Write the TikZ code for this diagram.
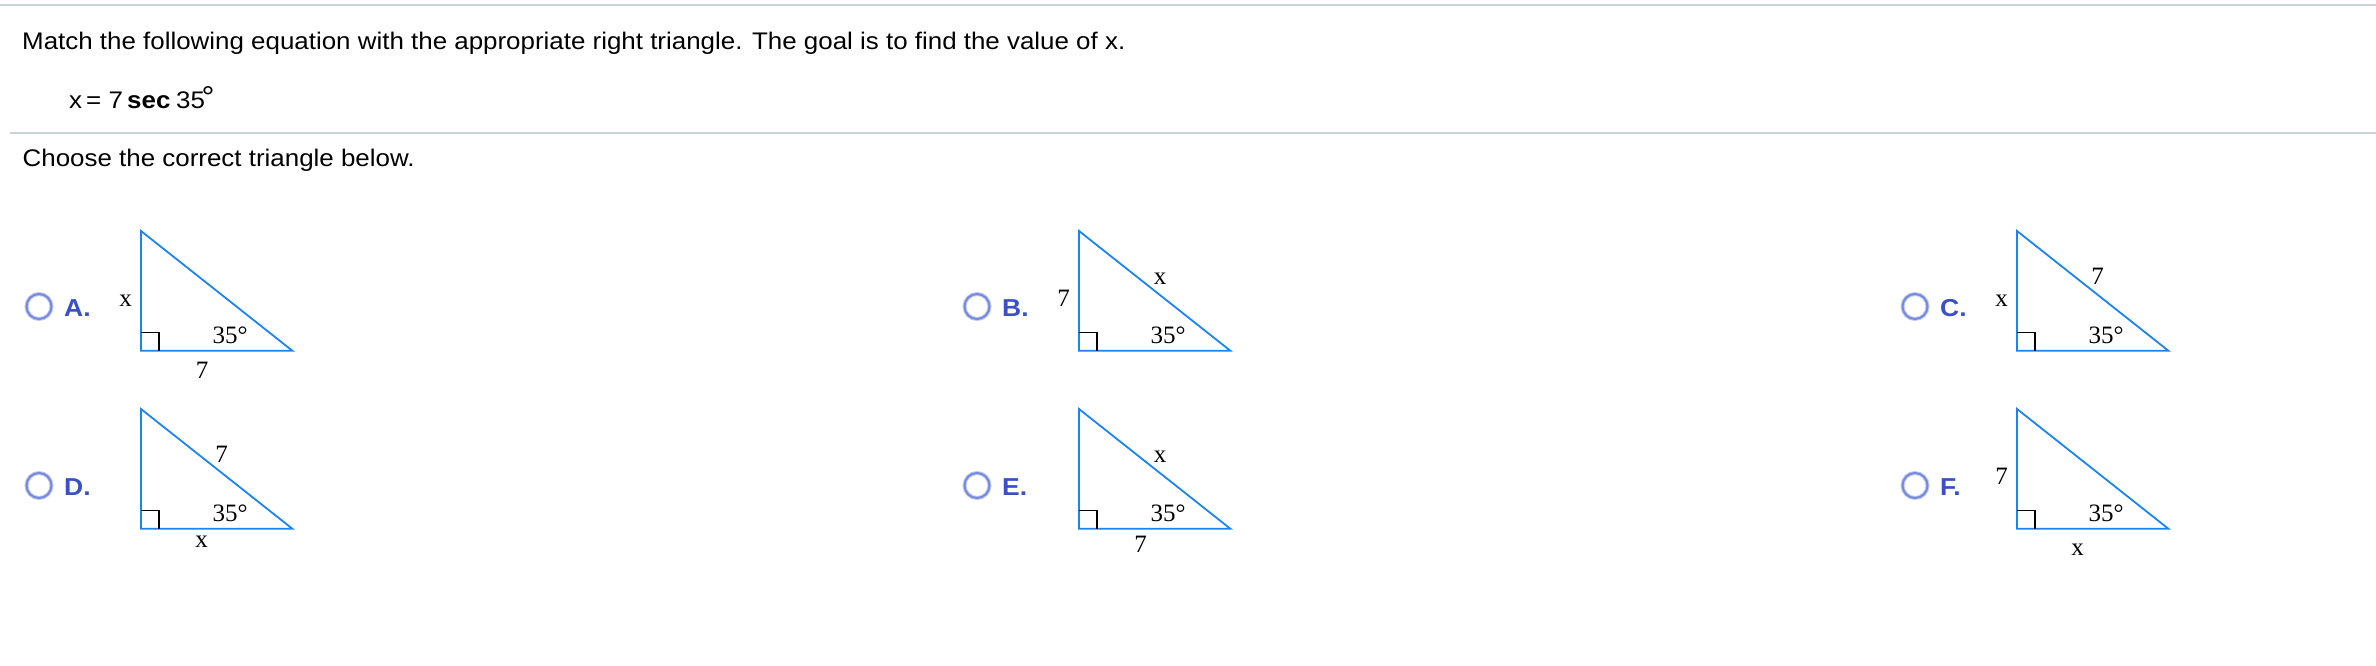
\documentclass[tikz,border=0pt]{standalone}
\usepackage{fontspec}
\setmainfont{Liberation Serif}
\newfontfamily\arialf[FakeStretch=1.08]{Liberation Sans}
\definecolor{rulecol}{RGB}{204,208,221}
\definecolor{tricol}{RGB}{26,132,240}
\definecolor{radiocol}{RGB}{118,138,222}
\definecolor{labcol}{RGB}{58,80,200}
\tikzset{
  tri/.style={draw=tricol, line width=1.8pt, line join=miter},
  rbox/.style={draw=black, line width=1.3pt},
  lbl/.style={inner sep=0pt, anchor=base, font=\fontsize{25}{30}\selectfont},
  ang/.style={inner sep=0pt, anchor=base west, font=\fontsize{25}{30}\selectfont},
  txt/.style={inner sep=0pt, anchor=base west, font=\arialf\fontsize{24}{29}\selectfont},
  opt/.style={inner sep=0pt, anchor=base west, text=labcol, font=\arialf\bfseries\fontsize{24.5}{29}\selectfont},
  radioglow/.style={draw=radiocol!45, line width=4pt},
  radio/.style={draw=radiocol, line width=2pt},
  hrule/.style={draw=rulecol, line width=2pt}
}
\newcommand\rtri[3]{%
  \begin{scope}[shift={(#2,#3)}]
    \coordinate (#1r) at (0,0);
    \coordinate (#1t) at (0,-119.7);
    \coordinate (#1h) at (151.3,0);
    \coordinate (#1b1) at (0,-18);
    \coordinate (#1b2) at (18,-18);
    \coordinate (#1b3) at (18,0);
    \draw[tri] (#1t) -- (#1r) -- (#1h) -- cycle;
    \draw[rbox] (#1b1) -- (#1b2) -- (#1b3);
    \node[ang] (#1ang) at (71.5,-6.8) {35°};
  \end{scope}}
\newcommand\ropt[4]{% name, cx, cy, letter
  \node[circle, minimum size=25pt, inner sep=0pt] (#1rad) at (#2,#3) {};
  \draw[radioglow] (#1rad.center) circle (12.5pt);
  \draw[radio] (#1rad.center) circle (12.5pt);
  \node[opt] (#1lab) at (#2+25,#3+9.5) {#4};}
\begin{document}
\begin{tikzpicture}[x=1pt,y=-1pt]
\useasboundingbox (0,0) rectangle (2376,666);
% rules
\coordinate (r1a) at (0,5);
\coordinate (r1b) at (2376,5);
\coordinate (r2a) at (10,132.7);
\coordinate (r2b) at (2376,132.7);
\draw[hrule] (r1a) -- (r1b);
\draw[hrule] (r2a) -- (r2b);
% texts
\node[txt] (q) at (22,50) {Match the following equation with the appropriate right triangle. The goal is to find the value of x.};
\node[txt] (eqx) at (69,108.3) {x};
\node[txt] (eqeq) at (86,108.3) {=};
\node[txt] (eq7) at (108.5,108.3) {7};
\node[txt] (eqsec) at (127,108.3) {\textbf{sec}};
\node[txt] (eq35) at (176,108.3) {35};
\node[txt, font=\arialf\fontsize{30}{34}\selectfont] (eqdeg) at (201.5,107.8) {°};
\node[txt] (ch) at (22.5,166.7) {Choose the correct triangle below.};
% options
\ropt{A}{39}{306.5}{A.}
\ropt{B}{977}{306.5}{B.}
\ropt{C}{1915}{306.5}{C.}
\ropt{D}{39}{485.5}{D.}
\ropt{E}{977}{485.5}{E.}
\ropt{F}{1915}{485.5}{F.}
% triangles
\rtri{A}{141}{350.7}
\rtri{B}{1079}{350.7}
\rtri{C}{2017}{350.7}
\rtri{D}{141}{528.7}
\rtri{E}{1079}{528.7}
\rtri{F}{2017}{528.7}
% side labels
\node[lbl] (Aleft) at (125.7,306.2) {x};
\node[lbl] (Abot) at (202,378.3) {7};
\node[lbl] (Bleft) at (1063.5,306.2) {7};
\node[lbl] (Bhyp) at (1160,284) {x};
\node[lbl] (Cleft) at (2001.7,306.2) {x};
\node[lbl] (Chyp) at (2097.7,284) {7};
\node[lbl] (Dhyp) at (221.7,462) {7};
\node[lbl] (Dbot) at (201.7,547.3) {x};
\node[lbl] (Ehyp) at (1160,462) {x};
\node[lbl] (Ebot) at (1140.7,552.7) {7};
\node[lbl] (Fleft) at (2001.7,484.2) {7};
\node[lbl] (Fbot) at (2077.7,555) {x};
\end{tikzpicture}
\end{document}
